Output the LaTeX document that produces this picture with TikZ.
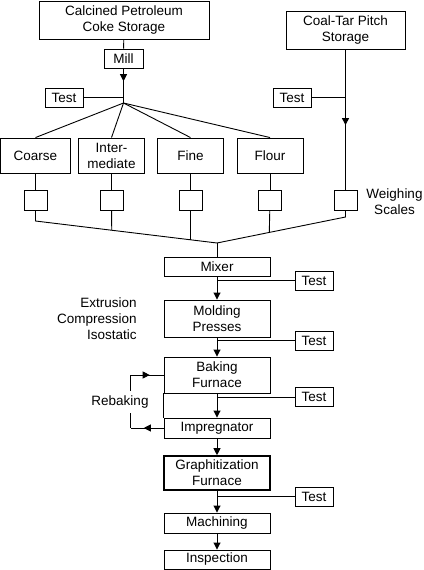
\documentclass[tikz,border=0pt]{standalone}
\usepackage{fontspec}
\setmainfont{Liberation Sans}
\usetikzlibrary{arrows.meta, positioning, calc, decorations.markings}
\tikzset{
  every picture/.style={font=\fontsize{13.5}{16}\selectfont, line width=0.9pt},
  box/.style={draw, align=center, inner sep=0pt, minimum width=#1},
  box/.default=106pt,
  grade/.style={box=66pt, minimum height=35pt},
  test/.style={draw, inner sep=0pt, minimum width=38pt, minimum height=19pt},
  wbox/.style={draw, inner sep=0pt, minimum width=23pt, minimum height=20pt},
  arrow/.style={-{Triangle[length=7pt, width=7pt]}},
  midarrow/.style={postaction={decorate}, decoration={markings,
      mark=at position #1 with {\arrow{Triangle[length=7pt, width=7pt]}}}},
  note/.style={align=center, inner sep=0pt},
}

\begin{document}
\begin{tikzpicture}[x=1pt, y=-1pt]
  \useasboundingbox (0,0) rectangle (423,570);

  % raw materials
  \node[box=170pt, minimum height=38pt] (coke) at (124,20) {Calcined Petroleum\\Coke Storage};
  \node[box=119pt, minimum height=38pt] (pitch) at (345.5,30) {Coal-Tar Pitch\\Storage};
  \node[test, minimum width=39pt] (mill) at (123.5,58.5) {Mill};
  \node[test] (ctest) at (64,97.5) {Test};
  \node[test] (ptest) at (292,97.5) {Test};
  \coordinate (split) at (123.5,103);

  % particle sizes and scales
  \node[grade, minimum width=70pt] (coarse) at (35.5,155.5) {Coarse};
  \node[grade] (inter) at (111.5,155.5) {Inter-\\mediate};
  \node[grade] (fine) at (190.5,155.5) {Fine};
  \node[grade] (flour) at (270,155.5) {Flour};
  \foreach \n/\x in {coarse/35.5, inter/111.5, fine/190.5, flour/270, pitch/345.5}
    \node[wbox] (w\n) at (\x,200) {};
  \node[note] (scales) at (394.5,202) {Weighing\\Scales};

  % main line
  \node[box, minimum height=19pt] (mixer) at (217,266.5) {Mixer};
  \node[box, minimum height=37pt] (mold) at (217,318.5) {Molding\\Presses};
  \node[box, minimum height=36pt] (bake) at (217,375) {Baking\\Furnace};
  \node[box, minimum height=20pt] (imp) at (217,428) {Impregnator};
  \node[box, minimum height=34pt, line width=1.6pt] (graph) at (217,473) {Graphitization\\Furnace};
  \node[box, minimum height=20pt] (mach) at (217,523) {Machining};
  \node[box, minimum height=19pt] (insp) at (217,559.5) {Inspection};
  \node[test] (t1) at (314,280.5) {Test};
  \node[test] (t2) at (314,340.5) {Test};
  \node[test] (t3) at (314,397) {Test};
  \node[test] (t4) at (314,496.5) {Test};
  \node[note, anchor=east, align=right] (forming) at (137,319) {Extrusion\\Compression\\Isostatic};

  % connectors
  \draw (coke) -- (mill);
  \draw[midarrow=0.37] (mill) -- (split);
  \draw (ctest) -- (ctest -| split);
  \foreach \n in {coarse, inter, fine, flour} {
    \draw (split) -- (\n.north);
    \draw (\n) -- (w\n);
  }
  \draw[midarrow=0.54] (pitch) -- (wpitch);
  \draw (ptest) -- (ptest -| pitch);

  \coordinate (jl) at (35.5,221);
  \coordinate (jr) at (345.5,217);
  \coordinate (join) at (217,243);
  \draw (wcoarse) -- (jl) -- (join) -- (jr) -- (wpitch);
  \draw (winter) -- ($(jl)!0.42!(join)$);
  \draw (wfine) -- ($(jl)!0.854!(join)$);
  \draw (wflour) -- ($(jr)!0.593!(join)$);
  \draw (join) -- (mixer);

  \draw[arrow] (mixer) -- (mold);
  \draw[arrow] (mold) -- (bake);
  \draw[arrow] (bake) -- (imp);
  \draw[arrow] (imp) -- (graph);
  \draw[arrow] (graph) -- (mach);
  \draw[arrow] (mach) -- (insp);
  \foreach \t/\m in {t1/mixer, t2/mold, t3/bake, t4/graph}
    \draw (\t) -- (\t -| \m);

  % rebaking loop
  \draw (bake.south west) -- (imp.north west);
  \draw[midarrow=0.6] (imp.west) -- ++(-33,0) coordinate (rbot);
  \draw (rbot) -- (rbot |- bake.west) coordinate (rtop);
  \draw[midarrow=0.58] (rtop) -- (bake.west);
  \node[fill=white, inner xsep=1pt, inner ysep=5pt] (rebake) at (120,402) {Rebaking};
\end{tikzpicture}
\end{document}
